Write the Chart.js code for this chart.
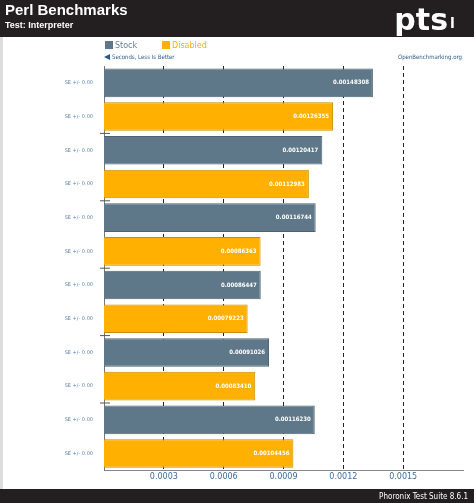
<!DOCTYPE html>
<html>
<head>
<meta charset="utf-8">
<script src="https://cdn.jsdelivr.net/npm/chart.js@4"></script>
<style>
  html, body { margin: 0; padding: 0; background: #fff; }
  #wrap { width: 474px; height: 503px; position: relative; }
</style>
</head>
<body>
<div id="wrap"><canvas id="c" width="474" height="503"></canvas></div>
<script>
const seriesNames = ['Stock', 'Disabled'];
const stockValues = [0.00148308, 0.00120417, 0.00116744, 0.00086447, 0.00091026, 0.00116230];
const disabledValues = [0.00126355, 0.00112983, 0.00086363, 0.00079223, 0.00083410, 0.00104456];
const rowLabel = 'SE +/- 0.00';
const xTicks = [0.0003, 0.0006, 0.0009, 0.0012, 0.0015];

const STOCK = '#5f7889', DISABLED = '#ffb000';

// 12 rows: stock then disabled per group
const labels = [], stockRow = [], disabledRow = [];
stockValues.forEach((v, i) => {
    labels.push(rowLabel, rowLabel);
    stockRow.push(v, null);
    disabledRow.push(null, disabledValues[i]);
});

const frame = {
    id: 'frame',
    beforeDraw(chart) {
        const c = chart.ctx;
        c.save();
        c.fillStyle = '#fff';
        c.fillRect(0, 0, 474, 503);
        c.fillStyle = '#ddd';
        c.fillRect(0, 37, 3, 452);
        c.restore();
    },
    afterDraw(chart) {
        const c = chart.ctx, a = chart.chartArea;
        c.save();
        // header
        c.fillStyle = '#231f20';
        c.fillRect(0, 0, 474, 37);
        c.fillStyle = '#fff';
        c.font = 'bold 15px "Liberation Sans", Arial';
        c.textBaseline = 'alphabetic';
        c.fillText('Perl Benchmarks', 5, 15);
        c.font = 'bold 9px "Liberation Sans", Arial';
        c.fillText('Test: Interpreter', 5, 28);
        c.font = 'bold 30px "DejaVu Sans"';
        c.textAlign = 'right';
        c.fillText('pts', 448, 30);
        c.font = 'bold 14px "DejaVu Sans"';
        c.textAlign = 'left';
        c.fillText('l', 450, 28);
        // footer
        c.fillStyle = '#231f20';
        c.fillRect(0, 489, 474, 14);
        c.fillStyle = '#fff';
        c.font = '8px "DejaVu Sans Condensed", "DejaVu Sans"';
        c.textAlign = 'right';
        c.fillText('Phoronix Test Suite 8.6.1', 468, 499);
        // legend
        c.textAlign = 'left';
        c.fillStyle = STOCK;
        c.fillRect(105, 41, 8, 8);
        c.fillStyle = '#6e8090';
        c.font = '8px "DejaVu Sans"';
        c.fillText('Stock', 115, 48);
        c.fillStyle = DISABLED;
        c.fillRect(162, 41, 8, 8);
        c.fillText('Disabled', 172, 48);
        c.fillStyle = '#2a5a8c';
        c.beginPath();
        c.moveTo(104, 57); c.lineTo(110, 54); c.lineTo(110, 60); c.fill();
        c.font = '6px "DejaVu Sans Condensed", "DejaVu Sans"';
        c.fillText('Seconds, Less Is Better', 112, 59);
        c.textAlign = 'right';
        c.fillText('OpenBenchmarking.org', 462, 59);
        // group separator ticks
        c.strokeStyle = '#555';
        c.lineWidth = 1;
        const ys = chart.scales.y;
        for (let g = 1; g < 6; g++) {
            const y = (ys.getPixelForValue(g * 2 - 1) + ys.getPixelForValue(g * 2)) / 2;
            c.beginPath();
            c.moveTo(a.left - 4, y); c.lineTo(a.left + 6, y); c.stroke();
        }
        // value labels
        c.fillStyle = '#fff';
        c.font = 'bold 6px "DejaVu Sans Condensed", "DejaVu Sans"';
        c.textBaseline = 'middle';
        chart.data.datasets.forEach((ds, di) => {
            chart.getDatasetMeta(di).data.forEach((bar, i) => {
                if (ds.data[i] == null) return;
                c.fillText(ds.data[i].toFixed(8), bar.x - 4, bar.y);
            });
        });
        c.restore();
    }
};

new Chart(document.getElementById('c'), {
    type: 'bar',
    data: {
        labels: labels,
        datasets: [
            { label: seriesNames[0], data: stockRow, backgroundColor: STOCK, borderColor: '#4d6270', borderWidth: 1, borderSkipped: 'start' },
            { label: seriesNames[1], data: disabledRow, backgroundColor: DISABLED, borderColor: '#c98d00', borderWidth: 1, borderSkipped: 'start' }
        ]
    },
    options: {
        indexAxis: 'y',
        responsive: false,
        animation: false,
        layout: { padding: { top: 66, right: 11, bottom: 19, left: 0 } },
        datasets: { bar: { barPercentage: 0.85, categoryPercentage: 1 } },
        plugins: { legend: { display: false }, tooltip: { enabled: false } },
        scales: {
            // bars are drawn on x; the source chart's bar scale is slightly compressed vs its grid
            x: {
                min: 0, max: 0.00198,
                display: false
            },
            grid: {
                axis: 'x',
                position: 'bottom',
                min: 0, max: 0.0018,
                afterBuildTicks(s) { s.ticks = xTicks.map(v => ({ value: v })); },
                ticks: { color: '#3f6a9a', font: { size: 8, family: 'DejaVu Sans' }, callback: v => v.toString(), padding: 2 },
                grid: { color: '#222', drawTicks: false, tickLength: 0 },
                border: { display: true, color: '#888', dash: [4, 3] }
            },
            y: {
                stacked: true,
                afterFit(s) { s.width = 104; },
                ticks: { color: '#5b7fa8', font: { size: 5, family: 'DejaVu Sans' }, padding: 3 },
                grid: { display: false },
                border: { color: '#777' }
            }
        }
    },
    plugins: [frame]
});
</script>
</body>
</html>
